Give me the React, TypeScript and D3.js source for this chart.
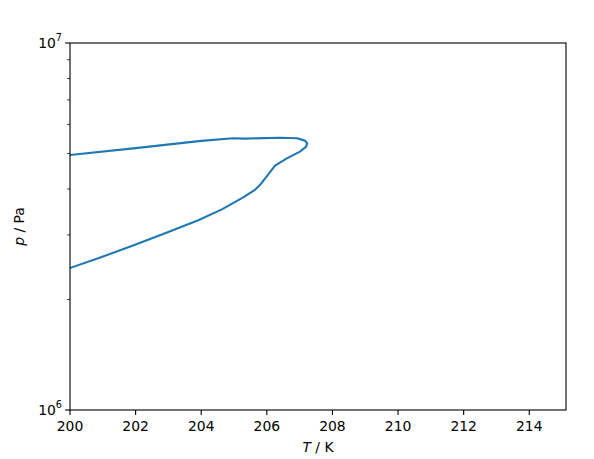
import React from 'react'
import * as d3 from 'd3'

// phase envelope, traced from upper branch to the tip and back along the lower branch
const temps = [
  199.9, 202.0, 204.0, 204.97, 205.34, 206.4, 206.92, 207.16, 207.23, 207.2, 207.01, 206.61,
  206.25, 206.15, 205.79, 205.64, 205.24, 204.63, 203.91, 202.9, 201.88, 200.86, 199.9,
]
const pressures = [
  4.94e6, 5.17e6, 5.41e6, 5.5e6, 5.49e6, 5.52e6, 5.5e6, 5.42e6, 5.33e6, 5.22e6, 5.06e6, 4.85e6,
  4.63e6, 4.51e6, 4.1e6, 3.98e6, 3.78e6, 3.52e6, 3.29e6, 3.03e6, 2.8e6, 2.59e6, 2.42e6,
]
const xTicks = [200, 202, 204, 206, 208, 210, 212, 214]
const yMajor = [1e6, 1e7]
const yMinor = [2e6, 3e6, 4e6, 5e6, 6e6, 7e6, 8e6, 9e6]

const W = 594
const H = 459
const margin = { left: 70, right: 28, top: 43, bottom: 49 }
const font = 'DejaVu Sans, sans-serif'

export default function App() {
  const x = d3
    .scaleLinear()
    .domain([200, 215.12])
    .range([margin.left, W - margin.right])
  const y = d3
    .scaleLog()
    .domain([1e6, 1e7])
    .range([H - margin.bottom, margin.top])

  const pts: [number, number][] = temps.map((t, i) => [t, pressures[i]])
  const line = d3
    .line<[number, number]>()
    .x((d) => x(d[0]))
    .y((d) => y(d[1]))

  const x0 = margin.left
  const x1 = W - margin.right
  const y0 = margin.top
  const y1 = H - margin.bottom

  return (
    <div style={{ position: 'fixed', left: 0, top: 0 }}>
      <svg width={W} height={H} style={{ display: 'block', background: '#fff' }}>
        <defs>
          <clipPath id="plot">
            <rect x={x0} y={y0} width={x1 - x0} height={y1 - y0} />
          </clipPath>
        </defs>
        <path
          d={line(pts) || ''}
          fill="none"
          stroke="#1f77b4"
          strokeWidth={2.1}
          strokeLinejoin="round"
          strokeLinecap="square"
          clipPath="url(#plot)"
        />
        <rect x={x0} y={y0} width={x1 - x0} height={y1 - y0} fill="none" stroke="#000" strokeWidth={1.1} />

        {xTicks.map((t) => (
          <g key={t} transform={`translate(${x(t)},${y1})`}>
            <line y2={4.9} stroke="#000" strokeWidth={1.1} />
            <text y={17} textAnchor="middle" fontFamily={font} fontSize={13.9} dominantBaseline="middle">
              {t}
            </text>
          </g>
        ))}

        {yMinor.map((v) => (
          <line key={v} x1={x0} x2={x0 - 2.8} y1={y(v)} y2={y(v)} stroke="#000" strokeWidth={0.8} />
        ))}
        {yMajor.map((v) => (
          <g key={v} transform={`translate(${x0},${y(v)})`}>
            <line x2={-4.9} stroke="#000" strokeWidth={1.1} />
            <text x={-8} y={5} textAnchor="end" fontFamily={font} fontSize={13.9}>
              10
              <tspan dy={-7} fontSize={9.7}>
                {Math.round(Math.log10(v))}
              </tspan>
            </text>
          </g>
        ))}

        <text x={(x0 + x1) / 2} y={452} textAnchor="middle" fontFamily={font} fontSize={13.9}>
          <tspan fontStyle="italic">T</tspan> / K
        </text>
        <text
          transform={`translate(24,${(y0 + y1) / 2}) rotate(-90)`}
          textAnchor="middle"
          fontFamily={font}
          fontSize={13.9}
        >
          <tspan fontStyle="italic">p</tspan> / Pa
        </text>
      </svg>
    </div>
  )
}
